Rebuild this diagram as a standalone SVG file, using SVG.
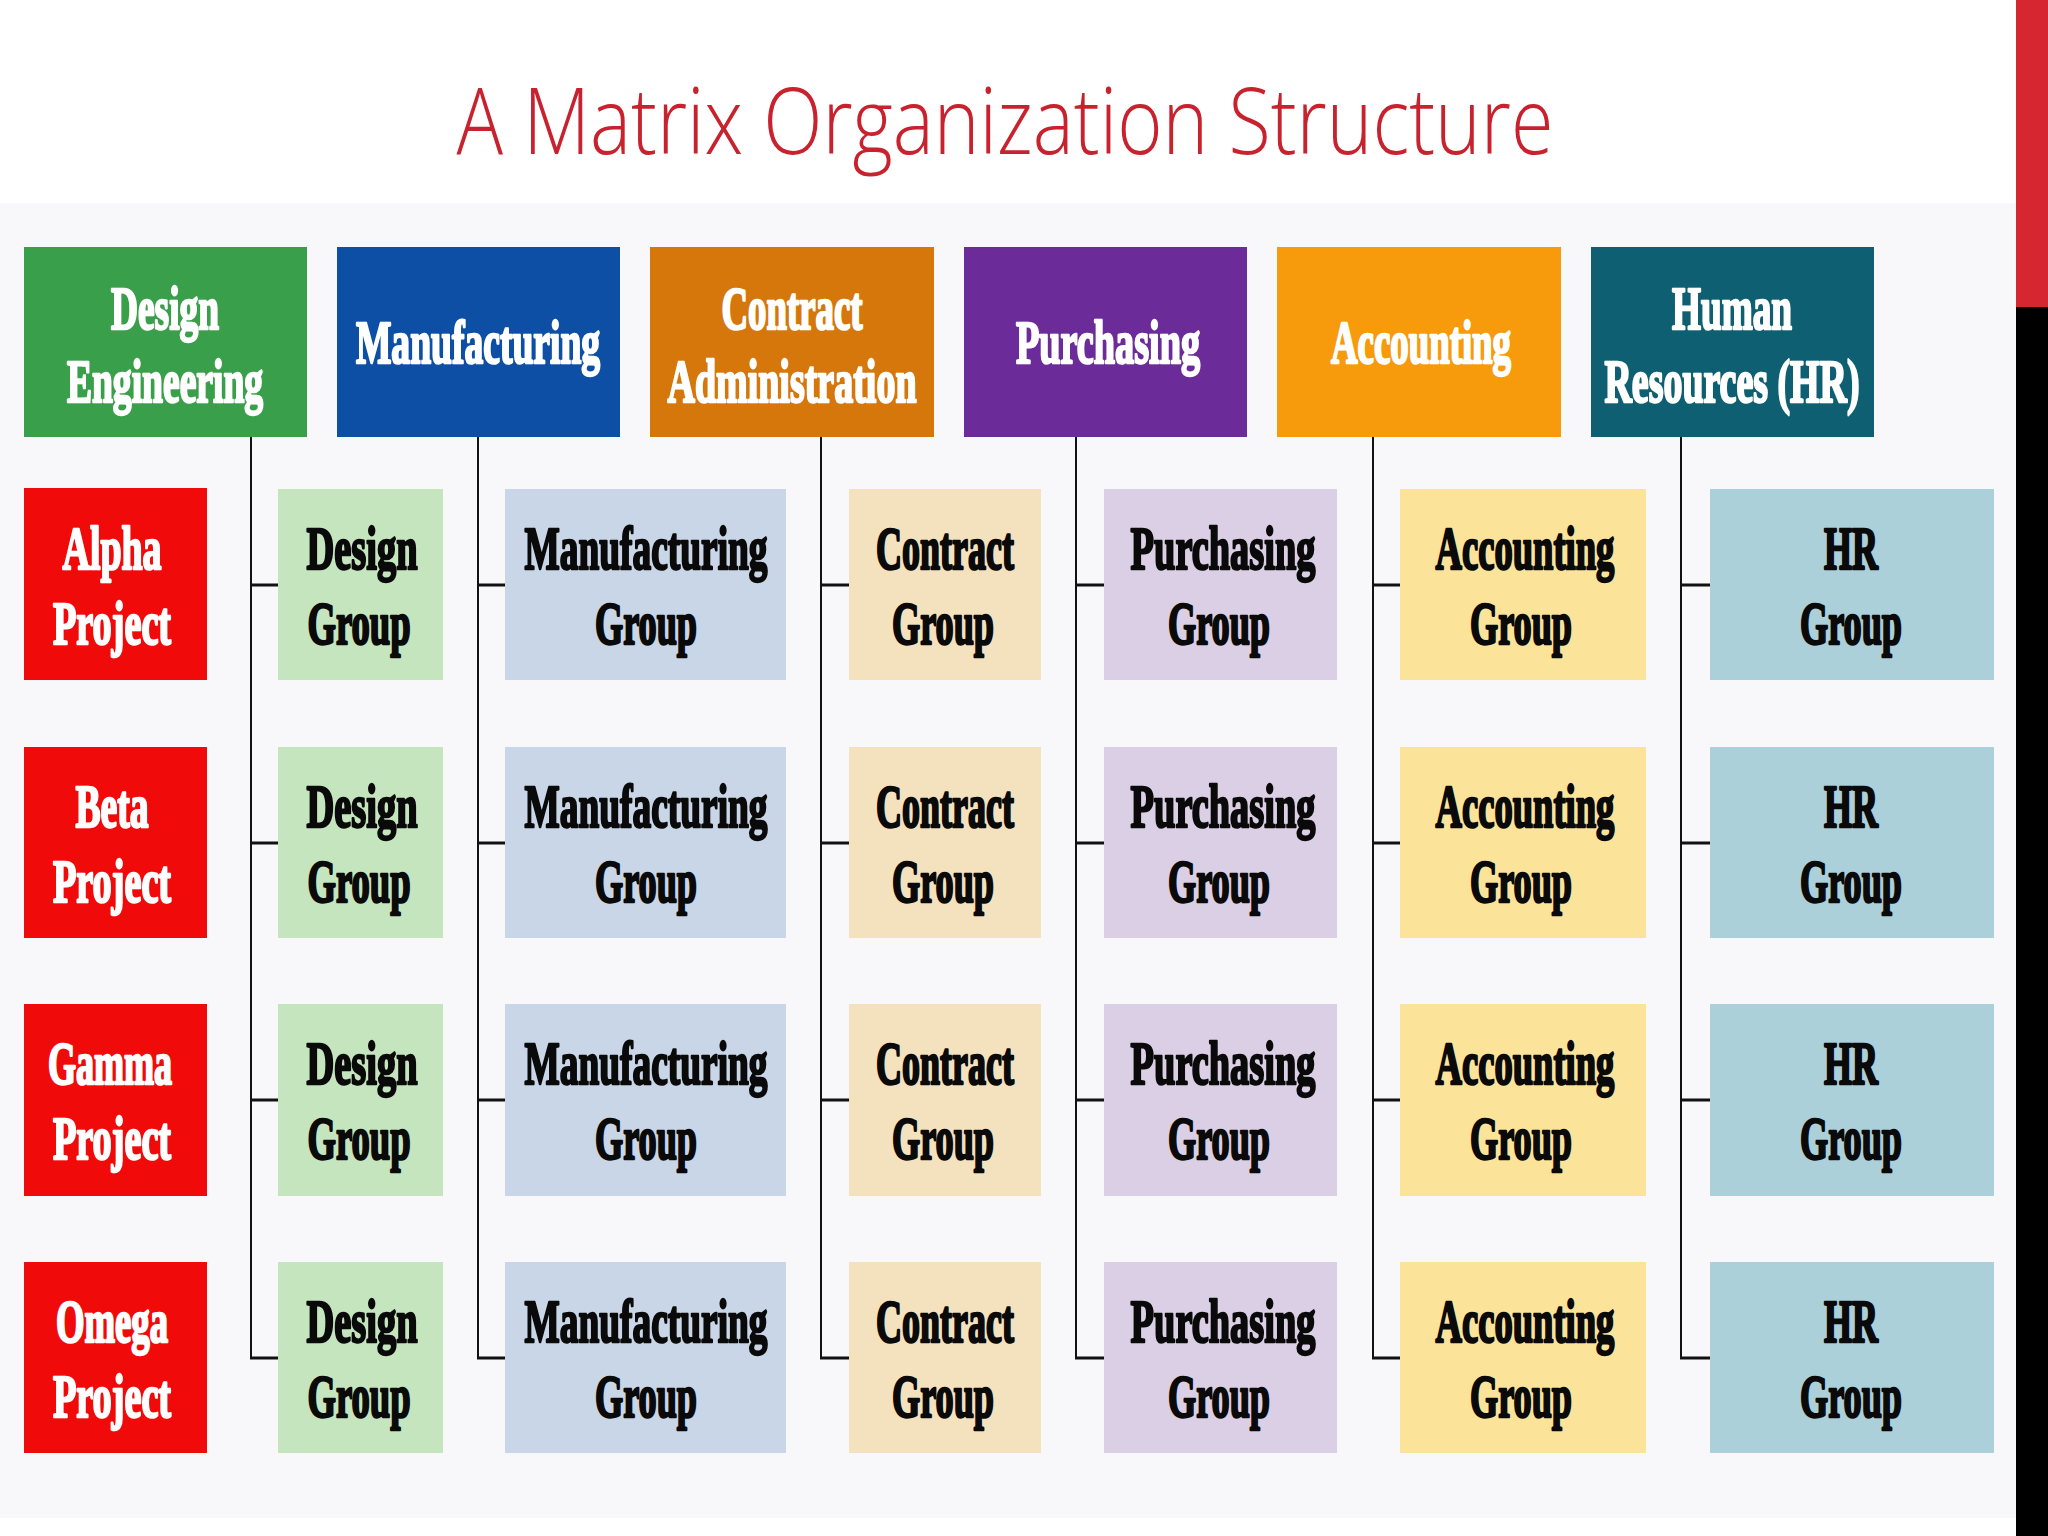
<svg xmlns="http://www.w3.org/2000/svg" width="2048" height="1536" viewBox="0 0 2048 1536">
<style>
.t{font-family:"Liberation Serif","Times New Roman",serif;font-weight:bold;font-size:62px;text-anchor:middle;stroke-width:2.6px;stroke-linejoin:round}
.w{fill:#ffffff;stroke:#ffffff}
.k{fill:#0a0a0a;stroke:#0a0a0a}
.conn line{stroke:#111;stroke-width:2}
.conn .tick{stroke-width:3}
</style>
<rect x="0" y="0" width="2048" height="1536" fill="#ffffff"/>
<rect x="0" y="203" width="2016" height="1315" fill="#f8f8fa"/>
<rect x="2016" y="0" width="32" height="307" fill="#d6262f"/>
<rect x="2016" y="307" width="32" height="1229" fill="#000000"/>
<text x="1005" y="154" font-family="'Open Sans','Noto Sans',sans-serif" font-weight="300" font-size="92" fill="#c8222e" text-anchor="middle" textLength="1097" lengthAdjust="spacingAndGlyphs">A Matrix Organization Structure</text>

<g id="connectors" class="conn">
<line x1="251" y1="437" x2="251" y2="1359"/>
<line x1="478" y1="437" x2="478" y2="1359"/>
<line x1="821" y1="437" x2="821" y2="1359"/>
<line x1="1076" y1="437" x2="1076" y2="1359"/>
<line x1="1373" y1="437" x2="1373" y2="1359"/>
<line x1="1681" y1="437" x2="1681" y2="1359"/>
<line class="tick" x1="250" y1="585" x2="278" y2="585"/><line class="tick" x1="250" y1="843" x2="278" y2="843"/><line class="tick" x1="250" y1="1100" x2="278" y2="1100"/><line class="tick" x1="250" y1="1358" x2="278" y2="1358"/>
<line class="tick" x1="477" y1="585" x2="505" y2="585"/><line class="tick" x1="477" y1="843" x2="505" y2="843"/><line class="tick" x1="477" y1="1100" x2="505" y2="1100"/><line class="tick" x1="477" y1="1358" x2="505" y2="1358"/>
<line class="tick" x1="820" y1="585" x2="849" y2="585"/><line class="tick" x1="820" y1="843" x2="849" y2="843"/><line class="tick" x1="820" y1="1100" x2="849" y2="1100"/><line class="tick" x1="820" y1="1358" x2="849" y2="1358"/>
<line class="tick" x1="1075" y1="585" x2="1104" y2="585"/><line class="tick" x1="1075" y1="843" x2="1104" y2="843"/><line class="tick" x1="1075" y1="1100" x2="1104" y2="1100"/><line class="tick" x1="1075" y1="1358" x2="1104" y2="1358"/>
<line class="tick" x1="1372" y1="585" x2="1400" y2="585"/><line class="tick" x1="1372" y1="843" x2="1400" y2="843"/><line class="tick" x1="1372" y1="1100" x2="1400" y2="1100"/><line class="tick" x1="1372" y1="1358" x2="1400" y2="1358"/>
<line class="tick" x1="1680" y1="585" x2="1710" y2="585"/><line class="tick" x1="1680" y1="843" x2="1710" y2="843"/><line class="tick" x1="1680" y1="1100" x2="1710" y2="1100"/><line class="tick" x1="1680" y1="1358" x2="1710" y2="1358"/>
</g>

<g id="hdr-design"><rect x="24" y="247" width="283" height="190" fill="#3a9f4a"/><text class="t w" transform="matrix(0.6 0 0 1 165 329)" textLength="180" lengthAdjust="spacingAndGlyphs">Design</text><text class="t w" transform="matrix(0.6 0 0 1 165 402)" textLength="327" lengthAdjust="spacingAndGlyphs">Engineering</text></g>
<g id="hdr-manufacturing"><rect x="337" y="247" width="283" height="190" fill="#0e4fa6"/><text class="t w" transform="matrix(0.6 0 0 1 478 363)" textLength="407" lengthAdjust="spacingAndGlyphs">Manufacturing</text></g>
<g id="hdr-contract"><rect x="650" y="247" width="284" height="190" fill="#d6770c"/><text class="t w" transform="matrix(0.6 0 0 1 792 329)" textLength="235" lengthAdjust="spacingAndGlyphs">Contract</text><text class="t w" transform="matrix(0.6 0 0 1 792 402)" textLength="415" lengthAdjust="spacingAndGlyphs">Administration</text></g>
<g id="hdr-purchasing"><rect x="964" y="247" width="283" height="190" fill="#6b2b98"/><text class="t w" transform="matrix(0.6 0 0 1 1108 363)" textLength="307" lengthAdjust="spacingAndGlyphs">Purchasing</text></g>
<g id="hdr-accounting"><rect x="1277" y="247" width="284" height="190" fill="#f79a0b"/><text class="t w" transform="matrix(0.6 0 0 1 1421 363)" textLength="300" lengthAdjust="spacingAndGlyphs">Accounting</text></g>
<g id="hdr-hr"><rect x="1591" y="247" width="283" height="190" fill="#0f5f72"/><text class="t w" transform="matrix(0.6 0 0 1 1732 329)" textLength="200" lengthAdjust="spacingAndGlyphs">Human</text><text class="t w" transform="matrix(0.6 0 0 1 1732 402)" textLength="425" lengthAdjust="spacingAndGlyphs">Resources (HR)</text></g>

<g id="proj-alpha"><rect x="24" y="488" width="183" height="192" fill="#f10a0a"/><text class="t w" transform="matrix(0.6 0 0 1 112 569)" textLength="165" lengthAdjust="spacingAndGlyphs">Alpha</text><text class="t w" transform="matrix(0.6 0 0 1 112 644)" textLength="197" lengthAdjust="spacingAndGlyphs">Project</text></g>
<g id="proj-beta"><rect x="24" y="747" width="183" height="191" fill="#f10a0a"/><text class="t w" transform="matrix(0.6 0 0 1 112 827)" textLength="122" lengthAdjust="spacingAndGlyphs">Beta</text><text class="t w" transform="matrix(0.6 0 0 1 112 902)" textLength="197" lengthAdjust="spacingAndGlyphs">Project</text></g>
<g id="proj-gamma"><rect x="24" y="1004" width="183" height="192" fill="#f10a0a"/><text class="t w" transform="matrix(0.6 0 0 1 110 1084)" textLength="207" lengthAdjust="spacingAndGlyphs">Gamma</text><text class="t w" transform="matrix(0.6 0 0 1 112 1159)" textLength="197" lengthAdjust="spacingAndGlyphs">Project</text></g>
<g id="proj-omega"><rect x="24" y="1262" width="183" height="191" fill="#f10a0a"/><text class="t w" transform="matrix(0.6 0 0 1 112 1342)" textLength="187" lengthAdjust="spacingAndGlyphs">Omega</text><text class="t w" transform="matrix(0.6 0 0 1 112 1417)" textLength="197" lengthAdjust="spacingAndGlyphs">Project</text></g>

<g id="design-1"><rect x="278" y="489" width="165" height="191" fill="#c5e5be"/><text class="t k" transform="matrix(0.6 0 0 1 362 569)" textLength="185" lengthAdjust="spacingAndGlyphs">Design</text><text class="t k" transform="matrix(0.6 0 0 1 359 644)" textLength="172" lengthAdjust="spacingAndGlyphs">Group</text></g>
<g id="design-2"><rect x="278" y="747" width="165" height="191" fill="#c5e5be"/><text class="t k" transform="matrix(0.6 0 0 1 362 827)" textLength="185" lengthAdjust="spacingAndGlyphs">Design</text><text class="t k" transform="matrix(0.6 0 0 1 359 902)" textLength="172" lengthAdjust="spacingAndGlyphs">Group</text></g>
<g id="design-3"><rect x="278" y="1004" width="165" height="192" fill="#c5e5be"/><text class="t k" transform="matrix(0.6 0 0 1 362 1084)" textLength="185" lengthAdjust="spacingAndGlyphs">Design</text><text class="t k" transform="matrix(0.6 0 0 1 359 1159)" textLength="172" lengthAdjust="spacingAndGlyphs">Group</text></g>
<g id="design-4"><rect x="278" y="1262" width="165" height="191" fill="#c5e5be"/><text class="t k" transform="matrix(0.6 0 0 1 362 1342)" textLength="185" lengthAdjust="spacingAndGlyphs">Design</text><text class="t k" transform="matrix(0.6 0 0 1 359 1417)" textLength="172" lengthAdjust="spacingAndGlyphs">Group</text></g>

<g id="manuf-1"><rect x="505" y="489" width="281" height="191" fill="#c9d6e7"/><text class="t k" transform="matrix(0.6 0 0 1 646 569)" textLength="405" lengthAdjust="spacingAndGlyphs">Manufacturing</text><text class="t k" transform="matrix(0.6 0 0 1 646 644)" textLength="170" lengthAdjust="spacingAndGlyphs">Group</text></g>
<g id="manuf-2"><rect x="505" y="747" width="281" height="191" fill="#c9d6e7"/><text class="t k" transform="matrix(0.6 0 0 1 646 827)" textLength="405" lengthAdjust="spacingAndGlyphs">Manufacturing</text><text class="t k" transform="matrix(0.6 0 0 1 646 902)" textLength="170" lengthAdjust="spacingAndGlyphs">Group</text></g>
<g id="manuf-3"><rect x="505" y="1004" width="281" height="192" fill="#c9d6e7"/><text class="t k" transform="matrix(0.6 0 0 1 646 1084)" textLength="405" lengthAdjust="spacingAndGlyphs">Manufacturing</text><text class="t k" transform="matrix(0.6 0 0 1 646 1159)" textLength="170" lengthAdjust="spacingAndGlyphs">Group</text></g>
<g id="manuf-4"><rect x="505" y="1262" width="281" height="191" fill="#c9d6e7"/><text class="t k" transform="matrix(0.6 0 0 1 646 1342)" textLength="405" lengthAdjust="spacingAndGlyphs">Manufacturing</text><text class="t k" transform="matrix(0.6 0 0 1 646 1417)" textLength="170" lengthAdjust="spacingAndGlyphs">Group</text></g>

<g id="contract-1"><rect x="849" y="489" width="192" height="191" fill="#f4e2bf"/><text class="t k" transform="matrix(0.6 0 0 1 945 569)" textLength="230" lengthAdjust="spacingAndGlyphs">Contract</text><text class="t k" transform="matrix(0.6 0 0 1 943 644)" textLength="170" lengthAdjust="spacingAndGlyphs">Group</text></g>
<g id="contract-2"><rect x="849" y="747" width="192" height="191" fill="#f4e2bf"/><text class="t k" transform="matrix(0.6 0 0 1 945 827)" textLength="230" lengthAdjust="spacingAndGlyphs">Contract</text><text class="t k" transform="matrix(0.6 0 0 1 943 902)" textLength="170" lengthAdjust="spacingAndGlyphs">Group</text></g>
<g id="contract-3"><rect x="849" y="1004" width="192" height="192" fill="#f4e2bf"/><text class="t k" transform="matrix(0.6 0 0 1 945 1084)" textLength="230" lengthAdjust="spacingAndGlyphs">Contract</text><text class="t k" transform="matrix(0.6 0 0 1 943 1159)" textLength="170" lengthAdjust="spacingAndGlyphs">Group</text></g>
<g id="contract-4"><rect x="849" y="1262" width="192" height="191" fill="#f4e2bf"/><text class="t k" transform="matrix(0.6 0 0 1 945 1342)" textLength="230" lengthAdjust="spacingAndGlyphs">Contract</text><text class="t k" transform="matrix(0.6 0 0 1 943 1417)" textLength="170" lengthAdjust="spacingAndGlyphs">Group</text></g>

<g id="purch-1"><rect x="1104" y="489" width="233" height="191" fill="#dbcfe5"/><text class="t k" transform="matrix(0.6 0 0 1 1223 569)" textLength="308" lengthAdjust="spacingAndGlyphs">Purchasing</text><text class="t k" transform="matrix(0.6 0 0 1 1219 644)" textLength="170" lengthAdjust="spacingAndGlyphs">Group</text></g>
<g id="purch-2"><rect x="1104" y="747" width="233" height="191" fill="#dbcfe5"/><text class="t k" transform="matrix(0.6 0 0 1 1223 827)" textLength="308" lengthAdjust="spacingAndGlyphs">Purchasing</text><text class="t k" transform="matrix(0.6 0 0 1 1219 902)" textLength="170" lengthAdjust="spacingAndGlyphs">Group</text></g>
<g id="purch-3"><rect x="1104" y="1004" width="233" height="192" fill="#dbcfe5"/><text class="t k" transform="matrix(0.6 0 0 1 1223 1084)" textLength="308" lengthAdjust="spacingAndGlyphs">Purchasing</text><text class="t k" transform="matrix(0.6 0 0 1 1219 1159)" textLength="170" lengthAdjust="spacingAndGlyphs">Group</text></g>
<g id="purch-4"><rect x="1104" y="1262" width="233" height="191" fill="#dbcfe5"/><text class="t k" transform="matrix(0.6 0 0 1 1223 1342)" textLength="308" lengthAdjust="spacingAndGlyphs">Purchasing</text><text class="t k" transform="matrix(0.6 0 0 1 1219 1417)" textLength="170" lengthAdjust="spacingAndGlyphs">Group</text></g>

<g id="acct-1"><rect x="1400" y="489" width="246" height="191" fill="#fbe49a"/><text class="t k" transform="matrix(0.6 0 0 1 1525 569)" textLength="298" lengthAdjust="spacingAndGlyphs">Accounting</text><text class="t k" transform="matrix(0.6 0 0 1 1521 644)" textLength="170" lengthAdjust="spacingAndGlyphs">Group</text></g>
<g id="acct-2"><rect x="1400" y="747" width="246" height="191" fill="#fbe49a"/><text class="t k" transform="matrix(0.6 0 0 1 1525 827)" textLength="298" lengthAdjust="spacingAndGlyphs">Accounting</text><text class="t k" transform="matrix(0.6 0 0 1 1521 902)" textLength="170" lengthAdjust="spacingAndGlyphs">Group</text></g>
<g id="acct-3"><rect x="1400" y="1004" width="246" height="192" fill="#fbe49a"/><text class="t k" transform="matrix(0.6 0 0 1 1525 1084)" textLength="298" lengthAdjust="spacingAndGlyphs">Accounting</text><text class="t k" transform="matrix(0.6 0 0 1 1521 1159)" textLength="170" lengthAdjust="spacingAndGlyphs">Group</text></g>
<g id="acct-4"><rect x="1400" y="1262" width="246" height="191" fill="#fbe49a"/><text class="t k" transform="matrix(0.6 0 0 1 1525 1342)" textLength="298" lengthAdjust="spacingAndGlyphs">Accounting</text><text class="t k" transform="matrix(0.6 0 0 1 1521 1417)" textLength="170" lengthAdjust="spacingAndGlyphs">Group</text></g>

<g id="hr-1"><rect x="1710" y="489" width="284" height="191" fill="#abd0da"/><text class="t k" transform="matrix(0.6 0 0 1 1851 569)" textLength="90" lengthAdjust="spacingAndGlyphs">HR</text><text class="t k" transform="matrix(0.6 0 0 1 1851 644)" textLength="170" lengthAdjust="spacingAndGlyphs">Group</text></g>
<g id="hr-2"><rect x="1710" y="747" width="284" height="191" fill="#abd0da"/><text class="t k" transform="matrix(0.6 0 0 1 1851 827)" textLength="90" lengthAdjust="spacingAndGlyphs">HR</text><text class="t k" transform="matrix(0.6 0 0 1 1851 902)" textLength="170" lengthAdjust="spacingAndGlyphs">Group</text></g>
<g id="hr-3"><rect x="1710" y="1004" width="284" height="192" fill="#abd0da"/><text class="t k" transform="matrix(0.6 0 0 1 1851 1084)" textLength="90" lengthAdjust="spacingAndGlyphs">HR</text><text class="t k" transform="matrix(0.6 0 0 1 1851 1159)" textLength="170" lengthAdjust="spacingAndGlyphs">Group</text></g>
<g id="hr-4"><rect x="1710" y="1262" width="284" height="191" fill="#abd0da"/><text class="t k" transform="matrix(0.6 0 0 1 1851 1342)" textLength="90" lengthAdjust="spacingAndGlyphs">HR</text><text class="t k" transform="matrix(0.6 0 0 1 1851 1417)" textLength="170" lengthAdjust="spacingAndGlyphs">Group</text></g>
</svg>
